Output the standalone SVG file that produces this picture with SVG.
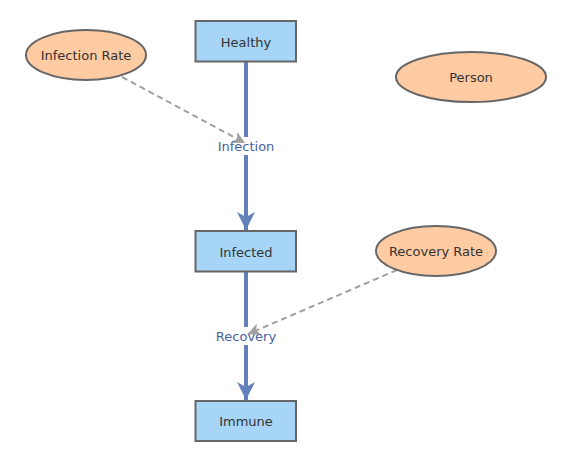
<svg xmlns="http://www.w3.org/2000/svg" width="573" height="464" viewBox="0 0 573 464">
<style>
.stock{fill:#a6d5f8;stroke:#666;stroke-width:2}
.aux{fill:#ffcba3;stroke:#666;stroke-width:2}
.t{font-family:"Comic Sans MS","DejaVu Sans",sans-serif;font-size:13px;fill:#333;text-anchor:middle;dominant-baseline:central}
.fl{font-family:"Comic Sans MS","DejaVu Sans",sans-serif;font-size:13px;fill:#4a5fa0;text-anchor:middle;dominant-baseline:central}
.flow{stroke:#6281bb;stroke-width:4;fill:none}
.dash{stroke:#a0a0a0;stroke-width:2;stroke-dasharray:6,4;fill:none}
</style>
<defs>
<marker id="fa" markerUnits="userSpaceOnUse" viewBox="0 0 18 18" refX="18" refY="9" markerWidth="18" markerHeight="18" orient="auto">
<path d="M0,0 L18,9 L0,18 L5,9 Z" fill="#6281bb"/>
</marker>
<marker id="da" markerUnits="userSpaceOnUse" viewBox="0 0 12 12" refX="12" refY="6" markerWidth="12" markerHeight="12" orient="auto">
<path d="M0,0 L12,6 L0,12 L3,6 Z" fill="#a0a0a0"/>
</marker>
</defs>
<g id="connectors">
<line class="flow" x1="246" y1="62" x2="246" y2="137"/>
<line class="flow" x1="246" y1="155" x2="246" y2="230" marker-end="url(#fa)"/>
<line class="flow" x1="246" y1="272" x2="246" y2="327"/>
<line class="flow" x1="246" y1="345" x2="246" y2="400" marker-end="url(#fa)"/>
<line class="dash" x1="122" y1="77" x2="245" y2="143" marker-end="url(#da)"/>
<line class="dash" x1="397" y1="270" x2="248" y2="334" marker-end="url(#da)"/>
<text class="fl" x="246" y="146">Infection</text>
<text class="fl" x="246" y="336">Recovery</text>
</g>
<g id="healthy"><rect class="stock" x="195.5" y="21" width="100.5" height="40.5"/><text class="t" x="246" y="42">Healthy</text></g>
<g id="infected"><rect class="stock" x="195.5" y="231" width="100.5" height="40.5"/><text class="t" x="246" y="252">Infected</text></g>
<g id="immune"><rect class="stock" x="195.5" y="401" width="100.5" height="40"/><text class="t" x="246" y="421">Immune</text></g>
<g id="infection-rate"><ellipse class="aux" cx="86" cy="55" rx="60" ry="25"/><text class="t" x="86" y="55">Infection Rate</text></g>
<g id="recovery-rate"><ellipse class="aux" cx="436" cy="251" rx="60" ry="25"/><text class="t" x="436" y="251">Recovery Rate</text></g>
<g id="person"><ellipse class="aux" cx="471" cy="77" rx="75" ry="25"/><text class="t" x="471" y="77">Person</text></g>
</svg>
